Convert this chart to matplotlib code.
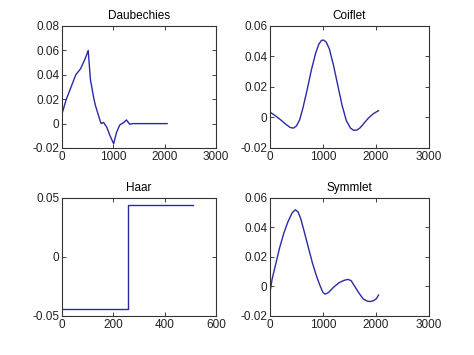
import matplotlib
matplotlib.use("Agg")
import matplotlib.pyplot as plt
import numpy as np

plt.rcParams['font.family'] = ['Liberation Sans', 'DejaVu Sans']

# values
daub_x = [0, 76, 204, 268, 363, 459, 510, 554, 618, 650, 745, 764, 809, 873,
          936, 1006, 1064, 1127, 1191, 1255, 1318, 1382, 2048]
daub_y = [0.008, 0.019, 0.033, 0.040, 0.045, 0.054, 0.060, 0.036, 0.021, 0.015,
          0.002, 0.000, 0.001, -0.003, -0.010, -0.0165, -0.007, -0.001, 0.0005,
          0.003, -0.0005, 0.0, 0.0]

coif_x = [0, 100, 200, 300, 380, 440, 500, 560, 620, 700, 780, 860, 920, 970,
          1010, 1060, 1120, 1200, 1280, 1360, 1440, 1520, 1580, 1640, 1700,
          1780, 1860, 1950, 2048]
coif_y = [0.0035, 0.0012, -0.0015, -0.0045, -0.0065, -0.007, -0.0055, -0.0015,
          0.006, 0.018, 0.031, 0.042, 0.048, 0.0505, 0.0508, 0.0495, 0.045,
          0.034, 0.021, 0.008, -0.002, -0.007, -0.0084, -0.0082, -0.0068,
          -0.0035, -0.0003, 0.0025, 0.0045]

haar_x = [0, 256, 256, 512]
haar_y = [-0.0442, -0.0442, 0.0442, 0.0442]

sym_x = [0, 40, 100, 180, 260, 340, 420, 480, 530, 580, 640, 720, 800, 880,
         950, 1000, 1040, 1100, 1200, 1300, 1400, 1470, 1530, 1600, 1680,
         1760, 1840, 1900, 1960, 2010, 2048]
sym_y = [-0.004, 0.005, 0.014, 0.026, 0.036, 0.044, 0.050, 0.052, 0.0505,
         0.046, 0.038, 0.027, 0.016, 0.0068, 0.0, -0.004, -0.0052, -0.0042,
         -0.0005, 0.0025, 0.0042, 0.0048, 0.004, 0.0, -0.0045, -0.0085,
         -0.0100, -0.0102, -0.0095, -0.0082, -0.0058]

panels = [
    ("Daubechies", daub_x, daub_y, [0, 1000, 2000, 3000],
     [-0.02, 0, 0.02, 0.04, 0.06, 0.08], ["-0.02", "0", "0.02", "0.04", "0.06", "0.08"]),
    ("Coiflet", coif_x, coif_y, [0, 1000, 2000, 3000],
     [-0.02, 0, 0.02, 0.04, 0.06], ["-0.02", "0", "0.02", "0.04", "0.06"]),
    ("Haar", haar_x, haar_y, [0, 200, 400, 600],
     [-0.05, 0, 0.05], ["-0.05", "0", "0.05"]),
    ("Symmlet", sym_x, sym_y, [0, 1000, 2000, 3000],
     [-0.02, 0, 0.02, 0.04, 0.06], ["-0.02", "0", "0.02", "0.04", "0.06"]),
]

positions = [
    [0.1308, 0.5831, 0.3249, 0.3437],
    [0.5696, 0.5831, 0.3354, 0.3437],
    [0.1308, 0.1099, 0.3249, 0.3324],
    [0.5696, 0.1099, 0.3354, 0.3324],
]

fig = plt.figure(figsize=(4.74, 3.55), dpi=100)

for (title, xs, ys, xt, yt, ytl), pos in zip(panels, positions):
    ax = fig.add_axes(pos)
    ax.plot(xs, ys, color='#2a2aa8', lw=1.0)
    ax.set_xlim(xt[0], xt[-1])
    ax.set_ylim(yt[0], yt[-1])
    ax.set_xticks(xt)
    ax.set_xticklabels([str(v) for v in xt])
    ax.set_yticks(yt)
    ax.set_yticklabels(ytl)
    ax.tick_params(direction='in', length=3, width=0.6, labelsize=8.5,
                   top=True, right=True, pad=2, colors='#222222')
    for s in ax.spines.values():
        s.set_linewidth(0.8)
        s.set_color('#333333')
    ax.set_title(title, fontsize=8.5, pad=5)

plt.savefig("out.png", dpi=100)
